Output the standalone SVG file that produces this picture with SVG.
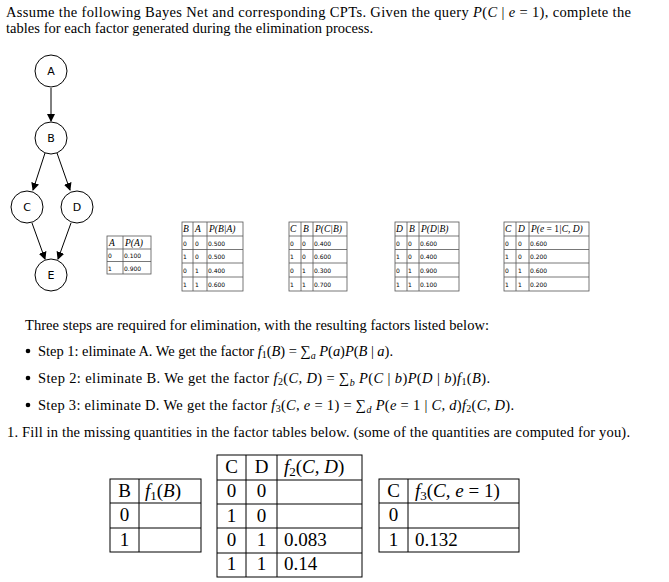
<svg xmlns="http://www.w3.org/2000/svg" width="669" height="582" viewBox="0 0 669 582">
<style>
.t{font-family:"Liberation Serif",serif;font-size:14.5px;fill:#000}
.i{font-style:italic}
.n{fill:#fff;stroke:#000;stroke-width:1}
.nl{font-family:"DejaVu Sans",sans-serif;font-size:11px;text-anchor:middle}
.e{stroke:#000;stroke-width:1;fill:none;marker-end:url(#ah)}
.g{fill:none;stroke:#555;stroke-width:0.8}
.h{font-family:"Liberation Serif",serif;font-style:italic;font-size:9.5px}
.v{font-family:"DejaVu Sans",sans-serif;font-size:6px}
.b{fill:none;stroke:#000;stroke-width:1}
.bt{font-family:"Liberation Serif",serif;font-size:19px;text-anchor:middle}
.bl{font-family:"Liberation Serif",serif;font-size:19px}
</style>
<defs><marker id="ah" markerWidth="8" markerHeight="8" refX="7" refY="4" orient="auto" markerUnits="userSpaceOnUse"><path d="M0,0 L8,4 L0,8 z" fill="#000"/></marker></defs>
<rect width="669" height="582" fill="#fff"/>
<text class="t" x="6" y="17" textLength="625">Assume the following Bayes Net and corresponding CPTs.  Given the query <tspan class="i">P</tspan>(<tspan class="i">C</tspan> | <tspan class="i">e</tspan> = 1), complete the</text>
<text class="t" x="6" y="33" textLength="367">tables for each factor generated during the elimination process.</text>
<g id="connectors">
<line class="e" x1="51" y1="88" x2="51" y2="121"/>
<line class="e" x1="45" y1="153" x2="33" y2="190"/>
<line class="e" x1="57" y1="153" x2="70" y2="190"/>
<line class="e" x1="32" y1="223" x2="45" y2="259"/>
<line class="e" x1="71" y1="223" x2="58" y2="259"/>
</g>
<g id="A"><circle class="n" cx="51" cy="71" r="16"/><text class="nl" x="51" y="75">A</text></g>
<g id="B"><circle class="n" cx="51" cy="138" r="16"/><text class="nl" x="51" y="142">B</text></g>
<g id="C"><circle class="n" cx="27" cy="207" r="16"/><text class="nl" x="27" y="211">C</text></g>
<g id="D"><circle class="n" cx="77" cy="207" r="16"/><text class="nl" x="77" y="211">D</text></g>
<g id="E"><circle class="n" cx="51" cy="275" r="16"/><text class="nl" x="51" y="279">E</text></g>
<g id="tPA">
<rect class="g" x="107" y="236" width="44" height="38"/>
<line class="g" x1="123" y1="236" x2="123" y2="274"/>
<line class="g" x1="107" y1="249" x2="151" y2="249"/><line class="g" x1="107" y1="261.5" x2="151" y2="261.5"/>
<text class="h" x="109" y="246">A</text><text class="h" x="125" y="246">P(A)</text>
<text class="v" x="108" y="258">0</text><text class="v" x="124" y="258">0.100</text>
<text class="v" x="108" y="271">1</text><text class="v" x="124" y="271">0.900</text>
</g>
<g id="tPBA">
<rect class="g" x="182" y="222" width="61" height="69"/>
<line class="g" x1="193" y1="222" x2="193" y2="291"/><line class="g" x1="207" y1="222" x2="207" y2="291"/>
<line class="g" x1="182" y1="236" x2="243" y2="236"/><line class="g" x1="182" y1="249.5" x2="243" y2="249.5"/><line class="g" x1="182" y1="263" x2="243" y2="263"/><line class="g" x1="182" y1="277" x2="243" y2="277"/>
<text class="h" x="183" y="232">B</text><text class="h" x="195" y="232">A</text><text class="h" x="209" y="232">P(B|A)</text>
<text class="v" x="183" y="246">0</text><text class="v" x="195" y="246">0</text><text class="v" x="208" y="246">0.500</text>
<text class="v" x="183" y="259">1</text><text class="v" x="195" y="259">0</text><text class="v" x="208" y="259">0.500</text>
<text class="v" x="183" y="273">0</text><text class="v" x="195" y="273">1</text><text class="v" x="208" y="273">0.400</text>
<text class="v" x="183" y="287">1</text><text class="v" x="195" y="287">1</text><text class="v" x="208" y="287">0.600</text>
</g>
<g id="tPCB">
<rect class="g" x="289" y="222" width="58" height="69"/>
<line class="g" x1="301" y1="222" x2="301" y2="291"/><line class="g" x1="313" y1="222" x2="313" y2="291"/>
<line class="g" x1="289" y1="236" x2="347" y2="236"/><line class="g" x1="289" y1="249.5" x2="347" y2="249.5"/><line class="g" x1="289" y1="263" x2="347" y2="263"/><line class="g" x1="289" y1="277" x2="347" y2="277"/>
<text class="h" x="290" y="232">C</text><text class="h" x="303" y="232">B</text><text class="h" x="315" y="232">P(C|B)</text>
<text class="v" x="290" y="246">0</text><text class="v" x="302" y="246">0</text><text class="v" x="314" y="246">0.400</text>
<text class="v" x="290" y="259">1</text><text class="v" x="302" y="259">0</text><text class="v" x="314" y="259">0.600</text>
<text class="v" x="290" y="273">0</text><text class="v" x="302" y="273">1</text><text class="v" x="314" y="273">0.300</text>
<text class="v" x="290" y="287">1</text><text class="v" x="302" y="287">1</text><text class="v" x="314" y="287">0.700</text>
</g>
<g id="tPDB">
<rect class="g" x="395" y="222" width="64" height="69"/>
<line class="g" x1="407" y1="222" x2="407" y2="291"/><line class="g" x1="419" y1="222" x2="419" y2="291"/>
<line class="g" x1="395" y1="236" x2="459" y2="236"/><line class="g" x1="395" y1="249.5" x2="459" y2="249.5"/><line class="g" x1="395" y1="263" x2="459" y2="263"/><line class="g" x1="395" y1="277" x2="459" y2="277"/>
<text class="h" x="396" y="232">D</text><text class="h" x="409" y="232">B</text><text class="h" x="421" y="232">P(D|B)</text>
<text class="v" x="396" y="246">0</text><text class="v" x="408" y="246">0</text><text class="v" x="420" y="246">0.600</text>
<text class="v" x="396" y="259">1</text><text class="v" x="408" y="259">0</text><text class="v" x="420" y="259">0.400</text>
<text class="v" x="396" y="273">0</text><text class="v" x="408" y="273">1</text><text class="v" x="420" y="273">0.900</text>
<text class="v" x="396" y="287">1</text><text class="v" x="408" y="287">1</text><text class="v" x="420" y="287">0.100</text>
</g>
<g id="tPE">
<rect class="g" x="504" y="222" width="85" height="69"/>
<line class="g" x1="516" y1="222" x2="516" y2="291"/><line class="g" x1="529" y1="222" x2="529" y2="291"/>
<line class="g" x1="504" y1="236" x2="589" y2="236"/><line class="g" x1="504" y1="249.5" x2="589" y2="249.5"/><line class="g" x1="504" y1="263" x2="589" y2="263"/><line class="g" x1="504" y1="277" x2="589" y2="277"/>
<text class="h" x="505" y="232">C</text><text class="h" x="518" y="232">D</text><text class="h" x="531" y="232">P(<tspan>e</tspan><tspan font-style="normal"> = 1</tspan>|C, D)</text>
<text class="v" x="505" y="246">0</text><text class="v" x="518" y="246">0</text><text class="v" x="530" y="246">0.600</text>
<text class="v" x="505" y="259">1</text><text class="v" x="518" y="259">0</text><text class="v" x="530" y="259">0.200</text>
<text class="v" x="505" y="273">0</text><text class="v" x="518" y="273">1</text><text class="v" x="530" y="273">0.600</text>
<text class="v" x="505" y="287">1</text><text class="v" x="518" y="287">1</text><text class="v" x="530" y="287">0.200</text>
</g>
<text class="t" x="25" y="330" textLength="464">Three steps are required for elimination, with the resulting factors listed below:</text>
<circle cx="28" cy="351" r="2.3"/>
<text class="t" x="38" y="356" textLength="355">Step 1: eliminate A. We get the factor <tspan class="i">f</tspan><tspan font-size="10" dy="2">1</tspan><tspan dy="-2">(</tspan><tspan class="i">B</tspan>) = ∑<tspan class="i" font-size="10" dy="3">a</tspan><tspan dy="-3"> </tspan><tspan class="i">P</tspan>(<tspan class="i">a</tspan>)<tspan class="i">P</tspan>(<tspan class="i">B</tspan> | <tspan class="i">a</tspan>).</text>
<circle cx="28" cy="378" r="2.3"/>
<text class="t" x="38" y="383" textLength="452">Step 2: eliminate B. We get the factor <tspan class="i">f</tspan><tspan font-size="10" dy="2">2</tspan><tspan dy="-2">(</tspan><tspan class="i">C, D</tspan>) = ∑<tspan class="i" font-size="10" dy="3">b</tspan><tspan dy="-3"> </tspan><tspan class="i">P</tspan>(<tspan class="i">C</tspan> | <tspan class="i">b</tspan>)<tspan class="i">P</tspan>(<tspan class="i">D</tspan> | <tspan class="i">b</tspan>)<tspan class="i">f</tspan><tspan font-size="10" dy="2">1</tspan><tspan dy="-2">(</tspan><tspan class="i">B</tspan>).</text>
<circle cx="28" cy="405" r="2.3"/>
<text class="t" x="38" y="410" textLength="476">Step 3: eliminate D. We get the factor <tspan class="i">f</tspan><tspan font-size="10" dy="2">3</tspan><tspan dy="-2">(</tspan><tspan class="i">C, e</tspan> = 1) = ∑<tspan class="i" font-size="10" dy="3">d</tspan><tspan dy="-3"> </tspan><tspan class="i">P</tspan>(<tspan class="i">e</tspan> = 1 | <tspan class="i">C, d</tspan>)<tspan class="i">f</tspan><tspan font-size="10" dy="2">2</tspan><tspan dy="-2">(</tspan><tspan class="i">C, D</tspan>).</text>
<text class="t" x="7" y="437" textLength="623">1. Fill in the missing quantities in the factor tables below. (some of the quantities are computed for you).</text>
<g id="f1">
<rect class="b" x="110" y="479" width="91" height="73"/>
<line class="b" x1="139" y1="479" x2="139" y2="552"/>
<line class="b" x1="110" y1="503" x2="201" y2="503"/><line class="b" x1="110" y1="528" x2="201" y2="528"/>
<text class="bt" x="124.5" y="497">B</text><text class="bl" x="145" y="497"><tspan class="i">f</tspan><tspan font-size="13" dy="3">1</tspan><tspan dy="-3">(</tspan><tspan class="i">B</tspan>)</text>
<text class="bt" x="124.5" y="521">0</text><text class="bt" x="124.5" y="546">1</text>
</g>
<g id="f2">
<rect class="b" x="217" y="455" width="145" height="122"/>
<line class="b" x1="246" y1="455" x2="246" y2="577"/><line class="b" x1="277" y1="455" x2="277" y2="577"/>
<line class="b" x1="217" y1="480" x2="362" y2="480"/><line class="b" x1="217" y1="504" x2="362" y2="504"/><line class="b" x1="217" y1="528" x2="362" y2="528"/><line class="b" x1="217" y1="553" x2="362" y2="553"/>
<text class="bt" x="231.5" y="473">C</text><text class="bt" x="261.5" y="473">D</text><text class="bl" x="284" y="473"><tspan class="i">f</tspan><tspan font-size="13" dy="3">2</tspan><tspan dy="-3">(</tspan><tspan class="i">C, D</tspan>)</text>
<text class="bt" x="231.5" y="497">0</text><text class="bt" x="261.5" y="497">0</text>
<text class="bt" x="231.5" y="522">1</text><text class="bt" x="261.5" y="522">0</text>
<text class="bt" x="231.5" y="546">0</text><text class="bt" x="261.5" y="546">1</text><text class="bl" x="284" y="546">0.083</text>
<text class="bt" x="231.5" y="570">1</text><text class="bt" x="261.5" y="570">1</text><text class="bl" x="284" y="570">0.14</text>
</g>
<g id="f3">
<rect class="b" x="379" y="479" width="140" height="73"/>
<line class="b" x1="408" y1="479" x2="408" y2="552"/>
<line class="b" x1="379" y1="503" x2="519" y2="503"/><line class="b" x1="379" y1="528" x2="519" y2="528"/>
<text class="bt" x="393.5" y="497">C</text><text class="bl" x="415" y="497"><tspan class="i">f</tspan><tspan font-size="13" dy="3">3</tspan><tspan dy="-3">(</tspan><tspan class="i">C, e</tspan> = 1)</text>
<text class="bt" x="393.5" y="521">0</text><text class="bt" x="393.5" y="546">1</text><text class="bl" x="415" y="546">0.132</text>
</g>
</svg>
